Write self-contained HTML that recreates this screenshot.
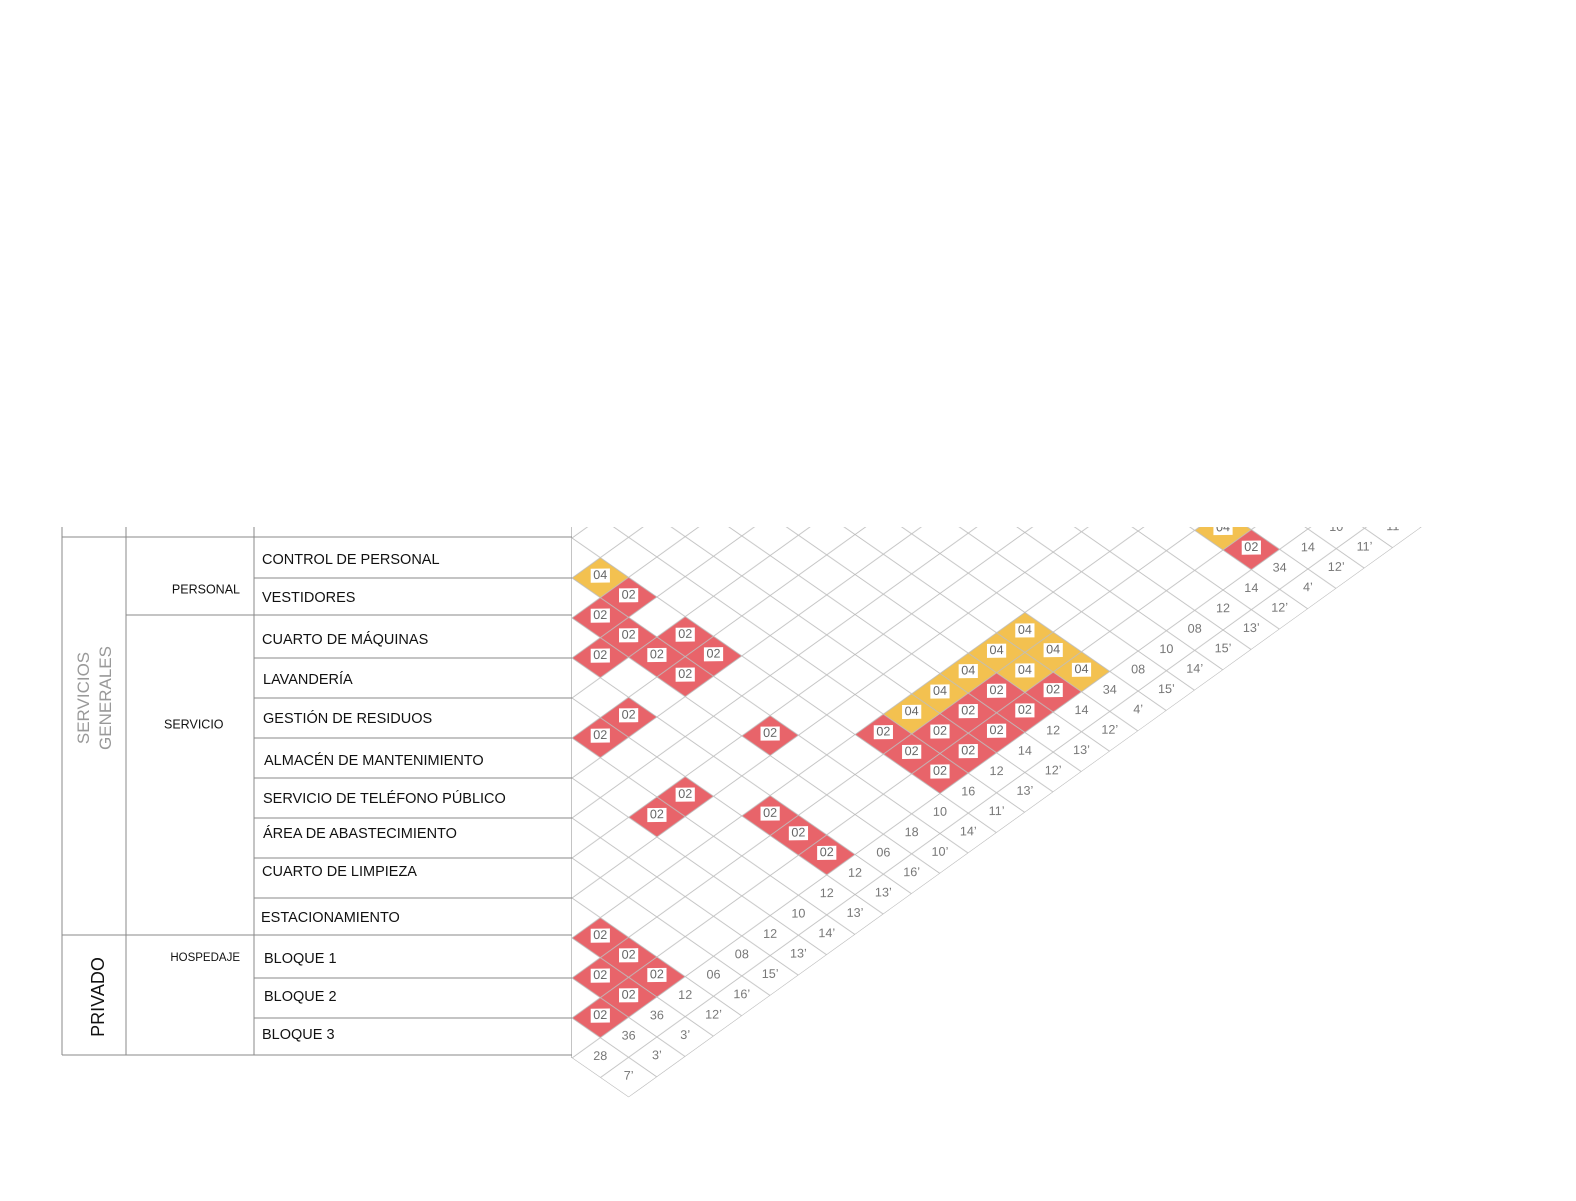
<!DOCTYPE html>
<html><head><meta charset="utf-8"><style>
html,body{margin:0;padding:0;background:#fff;overflow:hidden;width:1576px;height:1201px;}
svg{display:block;}
text{font-family:"Liberation Sans",sans-serif;}
</style></head><body>
<svg width="1576" height="1201" viewBox="0 0 1576 1201" xmlns="http://www.w3.org/2000/svg">
<defs>
<pattern id="lat" patternUnits="userSpaceOnUse" x="572" y="538" width="56" height="40">
<path d="M0 0L56 40M0 40L56 0" stroke="#bdbdbd" stroke-width="0.9" fill="none"/>
</pattern>
<clipPath id="top"><rect x="572" y="527" width="1004" height="674"/></clipPath>
<clipPath id="tri"><polygon points="572,480 572,1058 628,1098 1560,432"/></clipPath>
<symbol id="r" overflow="visible"><polygon points="-28,0 0,-20 28,0 0,20" fill="#e8646a"/><rect x="-9.5" y="-9" width="19" height="14" fill="#fff"/><text x="0" y="-2" font-size="12.5" fill="#666" text-anchor="middle" dominant-baseline="middle">02</text></symbol>
<symbol id="o" overflow="visible"><polygon points="-28,0 0,-20 28,0 0,20" fill="#f3c150"/><rect x="-9.5" y="-9" width="19" height="14" fill="#fff"/><text x="0" y="-2" font-size="12.5" fill="#666" text-anchor="middle" dominant-baseline="middle">04</text></symbol>
</defs>

<g stroke="#8a8a8a" stroke-width="1" fill="none">
<line x1="62" y1="527" x2="62" y2="1055"/>
<line x1="126" y1="527" x2="126" y2="1055"/>
<line x1="254" y1="527" x2="254" y2="1055"/>
<line x1="572" y1="527" x2="572" y2="1058"/>
<line x1="62" y1="537" x2="572" y2="537"/>
<line x1="254" y1="578" x2="572" y2="578"/>
<line x1="126" y1="615" x2="572" y2="615"/>
<line x1="254" y1="658" x2="572" y2="658"/>
<line x1="254" y1="698" x2="572" y2="698"/>
<line x1="254" y1="738" x2="572" y2="738"/>
<line x1="254" y1="778" x2="572" y2="778"/>
<line x1="254" y1="818" x2="572" y2="818"/>
<line x1="254" y1="858" x2="572" y2="858"/>
<line x1="254" y1="898" x2="572" y2="898"/>
<line x1="62" y1="935" x2="572" y2="935"/>
<line x1="254" y1="978" x2="572" y2="978"/>
<line x1="254" y1="1018" x2="572" y2="1018"/>
<line x1="62" y1="1055" x2="572" y2="1055"/>
</g>
<g font-size="14.5" fill="#111" dominant-baseline="middle">
<text x="262" y="560">CONTROL DE PERSONAL</text>
<text x="262" y="598">VESTIDORES</text>
<text x="262" y="640">CUARTO DE MÁQUINAS</text>
<text x="263" y="680">LAVANDERÍA</text>
<text x="263" y="719">GESTIÓN DE RESIDUOS</text>
<text x="264" y="761">ALMACÉN DE MANTENIMIENTO</text>
<text x="263" y="799">SERVICIO DE TELÉFONO PÚBLICO</text>
<text x="263" y="834">ÁREA DE ABASTECIMIENTO</text>
<text x="262" y="872">CUARTO DE LIMPIEZA</text>
<text x="261" y="918">ESTACIONAMIENTO</text>
<text x="264" y="959">BLOQUE 1</text>
<text x="264" y="997">BLOQUE 2</text>
<text x="262" y="1035">BLOQUE 3</text>
</g>
<g font-size="12.5" fill="#111" dominant-baseline="middle">
<text x="240" y="590" text-anchor="end">PERSONAL</text>
<text x="164" y="725">SERVICIO</text>
<text x="240" y="958" text-anchor="end" font-size="11.5">HOSPEDAJE</text>
</g>
<g font-size="17" fill="#999" text-anchor="middle">
<text transform="translate(89,698) rotate(-90)">SERVICIOS</text>
<text transform="translate(111,698) rotate(-90)">GENERALES</text>
</g>
<text transform="translate(104,997) rotate(-90)" font-size="18" fill="#111" text-anchor="middle">PRIVADO</text>

<g clip-path="url(#top)">
<g transform="matrix(1.0109,-0.01242,0,1,-6.235,7.104)">
<g clip-path="url(#tri)">
<rect x="560" y="400" width="1000" height="720" fill="#fff"/>
<use href="#r" x="628" y="598"/><use href="#r" x="600" y="618"/><use href="#r" x="628" y="638"/><use href="#r" x="684" y="638"/>
<use href="#r" x="600" y="658"/><use href="#r" x="656" y="658"/><use href="#r" x="712" y="658"/><use href="#r" x="684" y="678"/>
<use href="#r" x="628" y="718"/><use href="#r" x="600" y="738"/><use href="#r" x="768" y="738"/>
<use href="#r" x="684" y="798"/><use href="#r" x="656" y="818"/><use href="#r" x="768" y="818"/><use href="#r" x="796" y="838"/><use href="#r" x="824" y="858"/>
<use href="#r" x="992" y="698"/><use href="#r" x="1048" y="698"/><use href="#r" x="1020" y="718"/><use href="#r" x="964" y="718"/>
<use href="#r" x="880" y="738"/><use href="#r" x="936" y="738"/><use href="#r" x="992" y="738"/>
<use href="#r" x="908" y="758"/><use href="#r" x="964" y="758"/><use href="#r" x="936" y="778"/>
<use href="#r" x="600" y="938"/><use href="#r" x="628" y="958"/><use href="#r" x="600" y="978"/><use href="#r" x="656" y="978"/><use href="#r" x="628" y="998"/><use href="#r" x="600" y="1018"/>
<use href="#r" x="1244" y="558"/>
<use href="#o" x="600" y="578"/>
<use href="#o" x="1020" y="638"/><use href="#o" x="992" y="658"/><use href="#o" x="1048" y="658"/>
<use href="#o" x="964" y="678"/><use href="#o" x="1020" y="678"/><use href="#o" x="1076" y="678"/>
<use href="#o" x="936" y="698"/><use href="#o" x="908" y="718"/><use href="#o" x="1216" y="538"/>
<rect x="560" y="400" width="1000" height="720" fill="url(#lat)"/>
<polyline points="572,1058 628,1098 1560,432" stroke="#bdbdbd" stroke-width="0.9" fill="none"/>
<g font-size="12.5" fill="#777" text-anchor="middle" dominant-baseline="middle">
<text x="1328" y="537">10</text><text x="1384" y="537">11</text>
<text x="1300" y="557">14</text><text x="1356" y="557">11’</text>
<text x="1272" y="577">34</text><text x="1328" y="577">12’</text>
<text x="1244" y="597">14</text><text x="1300" y="597">4’</text>
<text x="1216" y="617">12</text><text x="1272" y="617">12’</text>
<text x="1188" y="637">08</text><text x="1244" y="637">13’</text>
<text x="1160" y="657">10</text><text x="1216" y="657">15’</text>
<text x="1132" y="677">08</text><text x="1188" y="677">14’</text>
<text x="1104" y="697">34</text><text x="1160" y="697">15’</text>
<text x="1076" y="717">14</text><text x="1132" y="717">4’</text>
<text x="1048" y="737">12</text><text x="1104" y="737">12’</text>
<text x="1020" y="757">14</text><text x="1076" y="757">13’</text>
<text x="992" y="777">12</text><text x="1048" y="777">12’</text>
<text x="964" y="797">16</text><text x="1020" y="797">13’</text>
<text x="936" y="817">10</text><text x="992" y="817">11’</text>
<text x="908" y="837">18</text><text x="964" y="837">14’</text>
<text x="880" y="857">06</text><text x="936" y="857">10’</text>
<text x="852" y="877">12</text><text x="908" y="877">16’</text>
<text x="824" y="897">12</text><text x="880" y="897">13’</text>
<text x="796" y="917">10</text><text x="852" y="917">13’</text>
<text x="768" y="937">12</text><text x="824" y="937">14’</text>
<text x="740" y="957">08</text><text x="796" y="957">13’</text>
<text x="712" y="977">06</text><text x="768" y="977">15’</text>
<text x="684" y="997">12</text><text x="740" y="997">16’</text>
<text x="656" y="1017">36</text><text x="712" y="1017">12’</text>
<text x="628" y="1037">36</text><text x="684" y="1037">3’</text>
<text x="600" y="1057">28</text><text x="656" y="1057">3’</text>
<text x="628" y="1077">7’</text>
</g>
</g>
</g>
</g>
</svg>
</body></html>
